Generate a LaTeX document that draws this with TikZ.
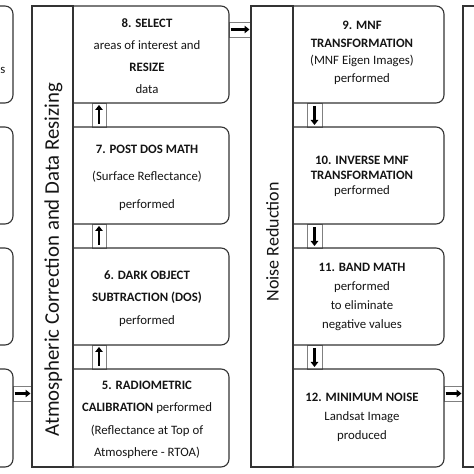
\documentclass[tikz,border=0pt]{standalone}
\usepackage{fontspec}
\setmainfont{Carlito}
\usetikzlibrary{arrows.meta}
\tikzset{
  boxline/.style={draw=black!80, line width=1.1pt},
  cellbox/.style={draw=none, inner sep=0pt, outer sep=0pt},
  txt/.style={align=center, text=black!92, inner sep=0pt},
  cbox/.style={draw=black!50, line width=0.6pt, inner sep=0pt, outer sep=0pt},
  arr/.style={line width=2.2pt, -{Triangle[length=5pt,width=7.5pt]}},
  bartext/.style={text=black!92, rotate=90},
}
% #1 name, #2 x1, #3 y1 (bottom), #4 x2, #5 y2 (top)
\newcommand{\rrbox}[5]{%
  \node[cellbox, minimum width={#4pt-#2pt}, minimum height={#5pt-#3pt}] (#1) at ({(#2+#4)/2},{(#3+#5)/2}) {};
  \draw[boxline] (#1.south west) -- (#1.north west) -- ([xshift=-8pt]#1.north east)
     arc[start angle=90,end angle=0,radius=8pt] -- ([yshift=8pt]#1.south east)
     arc[start angle=0,end angle=-90,radius=8pt] -- cycle;
}
% connector cell: #1 name, #2 x1, #3 y1, #4 x2, #5 y2
\newcommand{\cell}[5]{%
  \node[cbox, minimum width={#4pt-#2pt}, minimum height={#5pt-#3pt}] (#1) at ({(#2+#4)/2},{(#3+#5)/2}) {};
}
\begin{document}
\begin{tikzpicture}[x=1pt,y=1pt]
\useasboundingbox (0,0) rectangle (474,474);

% connector cells
\cell{c87}{92}{347}{106}{371}
\cell{c76}{92}{226}{106}{250}
\cell{c65}{92}{105}{106}{129}
\cell{c910}{307}{347}{322}{371}
\cell{c1011}{307}{226}{322}{250}
\cell{c1112}{307}{105}{322}{129}
\cell{h1}{13}{73}{32}{88}
\cell{h2}{229}{437}{251}{452}
\cell{h3}{444}{73}{463}{88}

% left (cropped) column
\rrbox{la}{-40}{371}{13}{468}
\rrbox{lb}{-40}{250}{13}{347}
\rrbox{lc}{-40}{129}{13}{226}
\rrbox{ld}{-40}{7}{13}{105}
\node[txt, font=\fontsize{12.8}{14}\selectfont, anchor=east] (frag) at (5.5,404) {s};

% panel 1
\node[cellbox, boxline, minimum width=41pt, minimum height=461pt] (bar1) at (52.5,237.5) {};
\node[bartext, font=\fontsize{20.8}{24}\selectfont] (bar1t) at (53.5,214.5) {Atmospheric Correction and Data Resizing};
\rrbox{b8}{73}{371}{229}{468}
\rrbox{b7}{73}{250}{229}{347}
\rrbox{b6}{73}{129}{229}{226}
\rrbox{b5}{73}{7}{229}{105}

\node[txt, font=\fontsize{12.8}{22}\selectfont] (t8) at (147,417.5)
  {\textbf{8. SELECT}\\areas of interest and\\\textbf{RESIZE}\\data};
\node[txt, font=\fontsize{12.8}{27.5}\selectfont] (t7) at (147,296.5)
  {\textbf{7. POST DOS MATH}\\(Surface Reflectance)\\performed};
\node[txt, font=\fontsize{12.8}{22.5}\selectfont] (t6) at (147,175.5)
  {\textbf{6. DARK OBJECT}\\\textbf{SUBTRACTION (DOS)}\\performed};
\node[txt, font=\fontsize{12.8}{22.5}\selectfont] (t5) at (147,54)
  {\textbf{5. RADIOMETRIC}\\\textbf{CALIBRATION} performed\\(Reflectance at Top of\\Atmosphere - RTOA)};

% panel 2
\node[cellbox, boxline, minimum width=42pt, minimum height=461pt] (bar2) at (272,237.5) {};
\node[bartext, font=\fontsize{18}{22}\selectfont] (bar2t) at (272.5,232) {Noise Reduction};
\rrbox{b9}{293}{371}{444}{468}
\rrbox{b10}{293}{250}{444}{347}
\rrbox{b11}{293}{129}{444}{226}
\rrbox{b12}{293}{7}{444}{105}

\node[txt, font=\fontsize{12.8}{17.5}\selectfont] (t9) at (362,421)
  {\textbf{9. MNF}\\\textbf{TRANSFORMATION}\\(MNF Eigen Images)\\performed};
\node[txt, font=\fontsize{12.8}{15}\selectfont] (t10) at (362,298)
  {\textbf{10. INVERSE MNF}\\\textbf{TRANSFORMATION}\\performed};
\node[txt, font=\fontsize{12.8}{19}\selectfont] (t11) at (362,177.5)
  {\textbf{11. BAND MATH}\\performed\\to eliminate\\negative values};
\node[txt, font=\fontsize{12.8}{19}\selectfont] (t12) at (362,57)
  {\textbf{12. MINIMUM NOISE}\\Landsat Image\\produced};

% right (cropped) panel
\node[cellbox, boxline, minimum width=40pt, minimum height=461pt, anchor=west] (bar3) at (463,237.5) {};

% arrows
\draw[arr] ([yshift=3pt]c87.south) -- ([yshift=-2pt]c87.north);
\draw[arr] ([yshift=3pt]c76.south) -- ([yshift=-2pt]c76.north);
\draw[arr] ([yshift=3pt]c65.south) -- ([yshift=-2pt]c65.north);
\draw[arr] ([yshift=-3pt]c910.north) -- ([yshift=2pt]c910.south);
\draw[arr] ([yshift=-3pt]c1011.north) -- ([yshift=2pt]c1011.south);
\draw[arr] ([yshift=-3pt]c1112.north) -- ([yshift=2pt]c1112.south);
\draw[arr] ([xshift=1.5pt]h1.west) -- ([xshift=-1.5pt]h1.east);
\draw[arr] ([xshift=1.5pt]h2.west) -- ([xshift=-1.5pt]h2.east);
\draw[arr] ([xshift=1.5pt]h3.west) -- ([xshift=-1.5pt]h3.east);
\end{tikzpicture}
\end{document}
